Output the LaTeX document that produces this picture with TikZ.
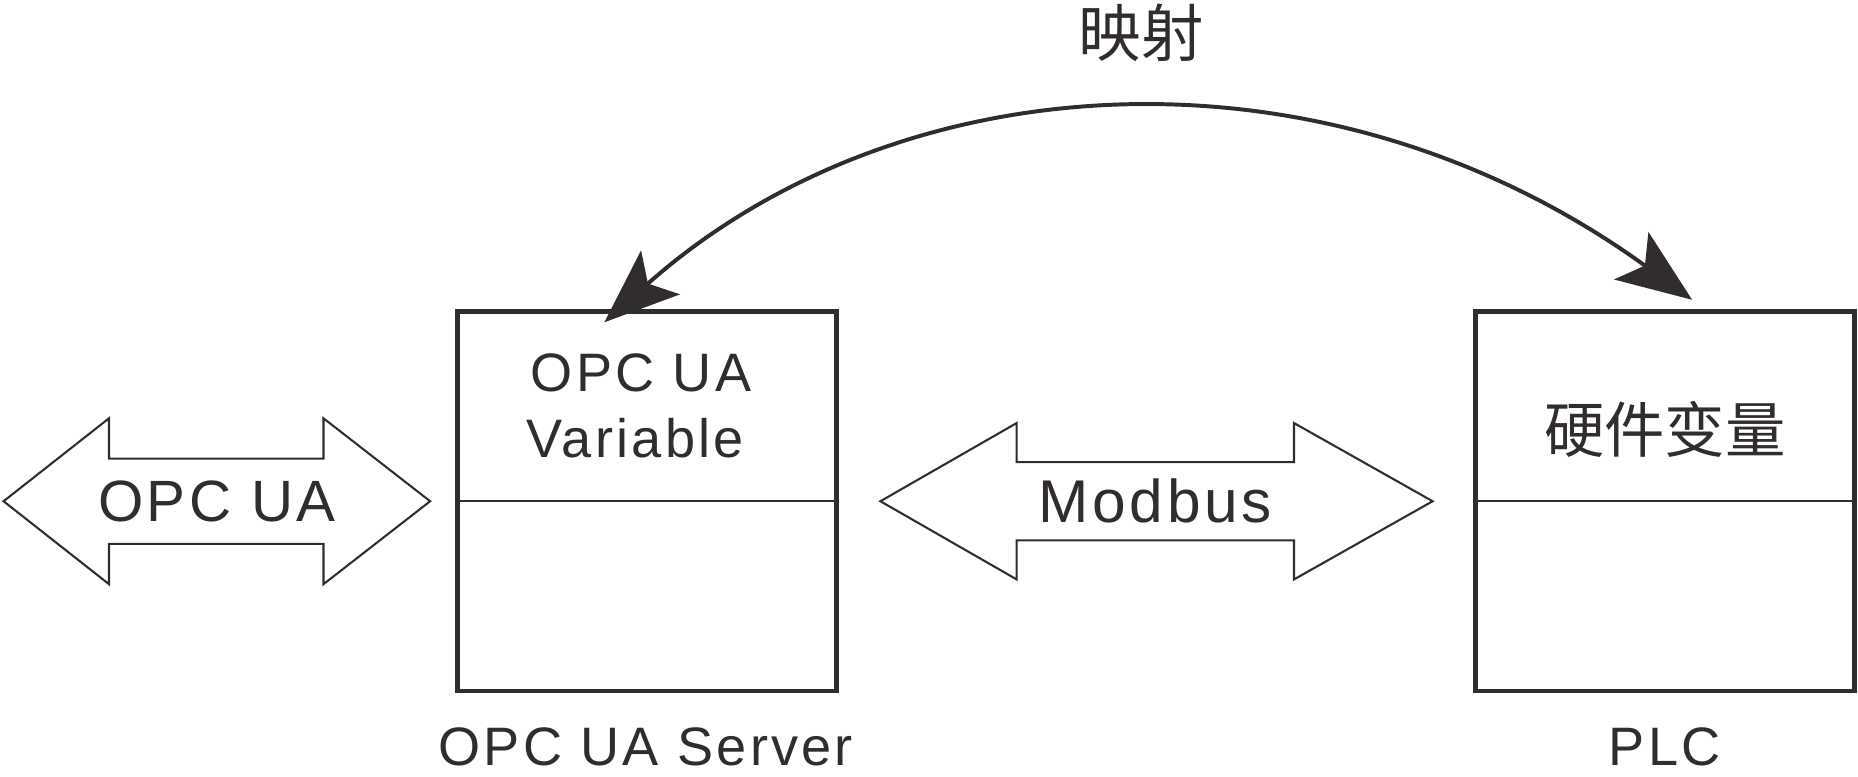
\documentclass[tikz,border=0pt]{standalone}
\usepackage{fontspec}
\setmainfont{Liberation Sans}[LetterSpace=6]
\newfontfamily\cjk{Noto Sans CJK SC}
\usetikzlibrary{arrows.meta}
\definecolor{ink}{RGB}{50,45,45}
\begin{document}
\begin{tikzpicture}[x=0.02cm,y=-0.02cm,
  box/.style={draw=ink,line width=2.2pt},
  thin/.style={draw=ink,line width=1pt},
  lbl/.style={text=ink,inner sep=0pt,anchor=center}]
\useasboundingbox (0,0) rectangle (1568,655);
% boxes
\draw[box] (386,263) rectangle (706,583);
\draw[thin] (386,423) -- (706,423);
\draw[box] (1245,263) rectangle (1565,583);
\draw[thin] (1245,423) -- (1565,423);
% double arrows
\draw[thin] (3,423) -- (92,353) -- (92,387) -- (273,387) -- (273,353) -- (363,423) -- (273,493) -- (273,459) -- (92,459) -- (92,493) -- cycle;
\draw[thin] (743,423) -- (858,357) -- (858,390) -- (1092,390) -- (1092,357) -- (1209,423) -- (1092,489) -- (1092,456) -- (858,456) -- (858,489) -- cycle;
% curve
\coordinate (c1) at (510,272);
\coordinate (c2) at (1428,253);
\draw[ink,line width=1.9pt,{Stealth[length=36,width=28,inset=8]}-{Stealth[length=36,width=28,inset=8]}] (c1) .. controls (760,50) and (1120,30) .. (c2);
% texts
\node[lbl,font=\cjk\fontsize{30}{30}\selectfont] (map) at (963,28) {映射};
\node[lbl,font=\fontsize{28}{28}\selectfont] (t1) at (183,423) {OPC UA};
\node[lbl,font=\fontsize{26}{26}\selectfont] (t2) at (541,315) {OPC\,\,UA};
\node[lbl,font=\fontsize{26}{26}\selectfont] (t3) at (536,370) {Variable};
\node[lbl,font=\fontsize{29}{29}\selectfont] (t4) at (975,423) {Modbus};
\node[lbl,font=\cjk\fontsize{29}{29}\selectfont] (t5) at (1405,362) {硬件变量};
\node[lbl,font=\fontsize{26}{26}\selectfont] (t6) at (545,630) {OPC UA Server};
\node[lbl,font=\fontsize{26}{26}\selectfont] (t7) at (1405,630) {PLC};
\end{tikzpicture}
\end{document}
